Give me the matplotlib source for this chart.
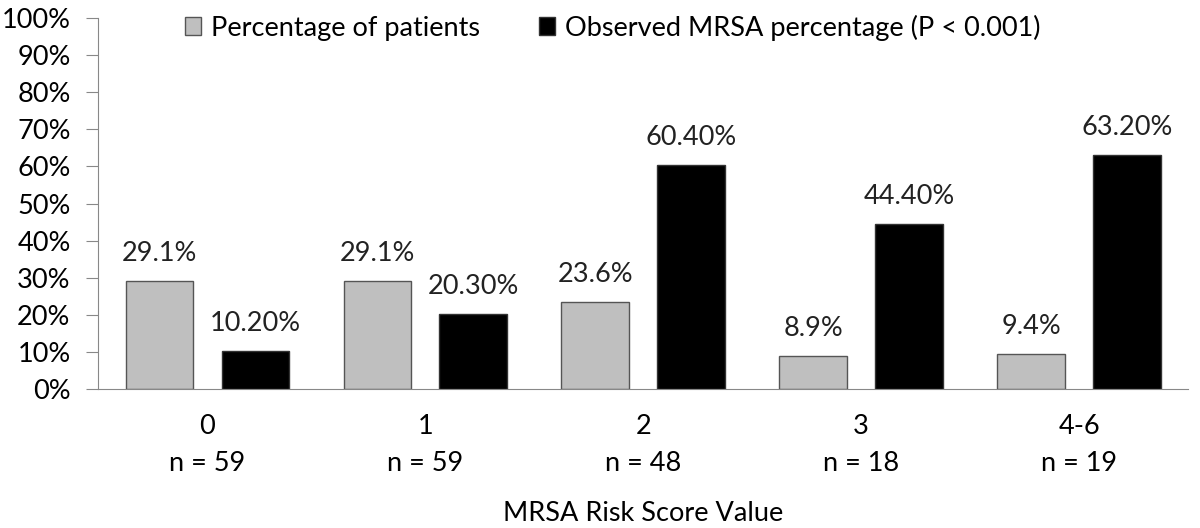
import matplotlib
matplotlib.use('Agg')
from matplotlib import pyplot as plt
from matplotlib.ticker import PercentFormatter
import numpy as np

plt.rcParams['font.family'] = ['Lato', 'DejaVu Sans']

# data
categories = ['0\nn = 59', '1\nn = 59', '2\nn = 48', '3\nn = 18', '4-6\nn = 19']
patients = [29.1, 29.1, 23.6, 8.9, 9.4]
mrsa = [10.2, 20.3, 60.4, 44.4, 63.2]
patients_labels = ['29.1%', '29.1%', '23.6%', '8.9%', '9.4%']
mrsa_labels = ['10.20%', '20.30%', '60.40%', '44.40%', '63.20%']

fs = 19.5
fig = plt.figure(figsize=(12, 5.28), dpi=100)
ax = fig.add_axes([0.082, 0.263, 0.908, 0.703])

x = np.arange(len(categories))
w = 0.31
off = 0.22
b1 = ax.bar(x - off, patients, w, color='#bfbfbf', edgecolor='#555555', linewidth=1,
            label='Percentage of patients')
b2 = ax.bar(x + off, mrsa, w, color='black', edgecolor='#333333', linewidth=1,
            label='Observed MRSA percentage (P < 0.001)')

# value labels above bars
for rect, t in zip(b1, patients_labels):
    ax.text(rect.get_x() + rect.get_width() / 2, rect.get_height() + 4, t,
            ha='center', va='bottom', fontsize=fs, color='#222222')
for rect, t in zip(b2, mrsa_labels):
    ax.text(rect.get_x() + rect.get_width() / 2, rect.get_height() + 4, t,
            ha='center', va='bottom', fontsize=fs, color='#222222')

ax.set_xlim(-0.5, 4.5)
ax.set_ylim(0, 100)
ax.set_yticks(np.arange(0, 101, 10))
ax.yaxis.set_major_formatter(PercentFormatter(decimals=0))
ax.set_xticks(x)
ax.set_xticklabels(categories, fontsize=fs, linespacing=1.6)
ax.tick_params(axis='x', length=0, pad=18)
ax.tick_params(axis='y', length=9, color='#888888', labelsize=fs, pad=11)
for s in ['top', 'right']:
    ax.spines[s].set_visible(False)
ax.spines['left'].set_color('#888888')
ax.spines['bottom'].set_color('#888888')
ax.set_xlabel('MRSA Risk Score Value', fontsize=fs, labelpad=18)

ax.legend(loc='upper center', bbox_to_anchor=(0.472, 1.075), ncol=2, frameon=False,
          fontsize=fs, handlelength=0.6, handleheight=0.6, handletextpad=0.35,
          columnspacing=2.2)

fig.savefig('out.png')
